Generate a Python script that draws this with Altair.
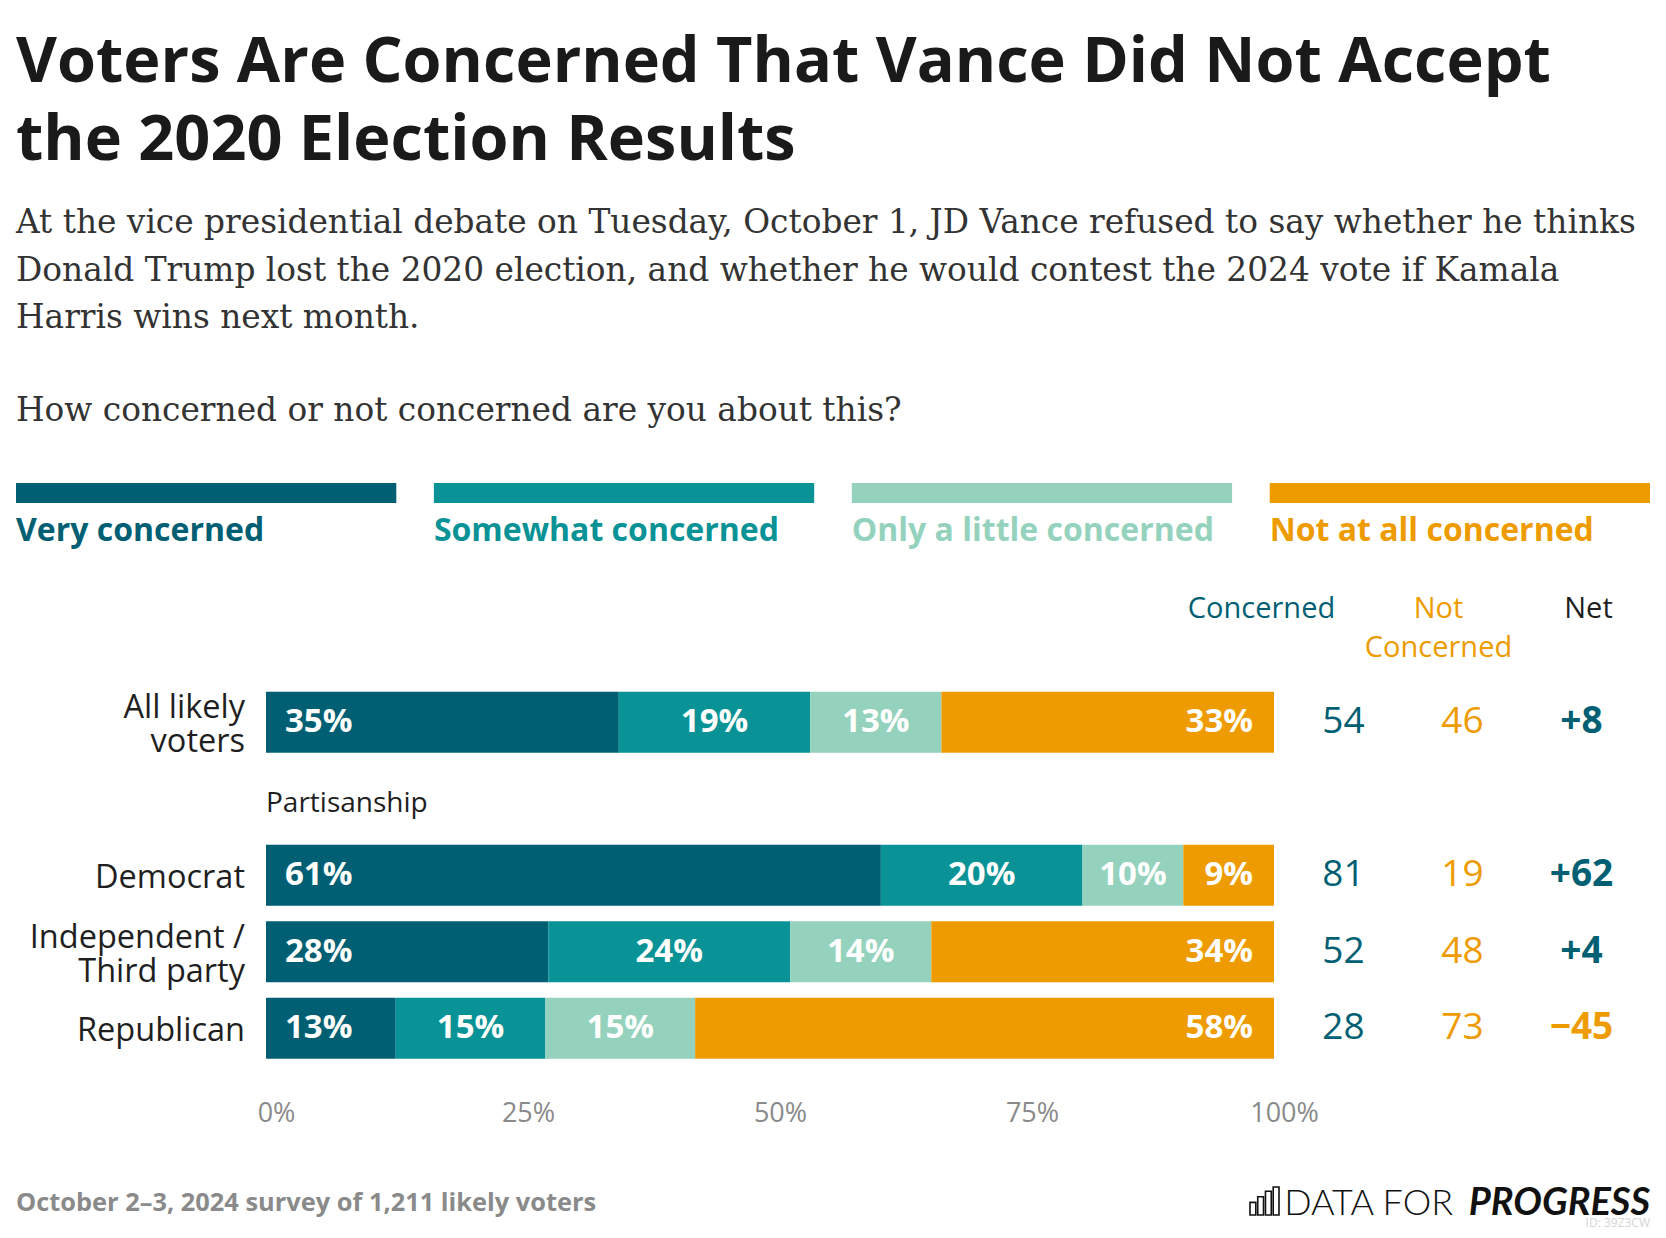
import altair as alt
import pandas as pd

# ---- data -------------------------------------------------------------
rows = ["All likely voters", "Democrat", "Independent / Third party", "Republican"]
row_labels = ["All likely\nvoters", "Democrat", "Independent /\nThird party", "Republican"]
section_label = "Partisanship"
row_domain = [rows[0], section_label, rows[1], rows[2], rows[3]]

levels = ["Very concerned", "Somewhat concerned", "Only a little concerned", "Not at all concerned"]
level_colors = ["#005f73", "#0a9396", "#94d2bd", "#ee9b00"]

very = [35, 61, 28, 13]
somewhat = [19, 20, 24, 15]
little = [13, 10, 14, 15]
not_at_all = [33, 9, 34, 58]

concerned_total = [54, 81, 52, 28]
not_concerned_total = [46, 19, 48, 73]
net = [8, 62, 4, -45]

table_cols = ["Concerned", "Not Concerned", "Net"]
table_headers = ["Concerned", "Not\nConcerned", "Net"]
x_ticks = [0, 0.25, 0.5, 0.75, 1]

title_lines = ["Voters Are Concerned That Vance Did Not Accept", "the 2020 Election Results"]
subtitle_lines = [
    "At the vice presidential debate on Tuesday, October 1, JD Vance refused to say whether he thinks",
    "Donald Trump lost the 2020 election, and whether he would contest the 2024 vote if Kamala",
    "Harris wins next month.",
]
question_text = "How concerned or not concerned are you about this?"
source_note = "October 2\u20133, 2024 survey of 1,211 likely voters"
logo_bars = [0.45, 0.65, 0.85, 1.0]

TEAL = "#005f73"
ORANGE = "#ee9b00"
INK = "#1f1f1f"
SANS = "Open Sans"
SERIF = "DejaVu Serif"
SERIF_SIZE = 32.8

# ---- tables -----------------------------------------------------------
series = [very, somewhat, little, not_at_all]
bars_df = pd.DataFrame(
    [
        {"row": r, "level": lv, "order": j, "value": series[j][i]}
        for i, r in enumerate(rows)
        for j, lv in enumerate(levels)
    ]
)
labels_df = pd.DataFrame({"row": rows, "label": row_labels})


def signed(v):
    return ("+" if v >= 0 else "\u2212") + str(abs(v))


conc_df = pd.DataFrame({"row": rows, "col": table_cols[0], "txt": [str(v) for v in concerned_total]})
notc_df = pd.DataFrame({"row": rows, "col": table_cols[1], "txt": [str(v) for v in not_concerned_total]})
net_df = pd.DataFrame({"row": rows, "col": table_cols[2], "net": net, "txt": [signed(v) for v in net]})
legend_df = pd.DataFrame({"level": levels})

# ---- shared scales ----------------------------------------------------
y_scale = alt.Scale(domain=row_domain, paddingInner=0.2, paddingOuter=0.1)
x_axis = alt.Axis(
    values=x_ticks, format=".0%", domain=False, ticks=False, grid=False, labelFlush=False,
    labelFont=SANS, labelFontSize=27, labelColor="#8a8a8a", labelPadding=34, labelOffset=10,
    title=None,
)
x_scale = alt.Scale(domain=[0, 1], nice=False)
color_scale = alt.Scale(domain=levels, range=level_colors)

PLOT_H = 382.5

# ---- stacked bars -----------------------------------------------------
stacked = alt.Chart(bars_df).transform_stack(
    stack="value", groupby=["row"], as_=["x0", "x1"], offset="normalize",
    sort=[alt.SortField("order", order="ascending")],
).transform_calculate(mid="(datum.x0 + datum.x1) / 2", pct="datum.value + '%'")

bars = stacked.mark_bar().encode(
    x=alt.X("x0:Q", scale=x_scale, axis=x_axis),
    x2="x1:Q",
    y=alt.Y("row:N", scale=y_scale, axis=None),
    color=alt.Color("level:N", scale=color_scale, legend=None),
)

pct_style = dict(font=SANS, fontSize=33, fontWeight="bold", color="white", baseline="middle")
first_lbl = stacked.transform_filter("datum.order == 0").mark_text(align="left", dx=19, **pct_style).encode(
    x=alt.X("x0:Q", scale=x_scale, axis=x_axis), y=alt.Y("row:N", scale=y_scale, axis=None), text="pct:N"
)
mid_lbl = stacked.transform_filter("datum.order == 1 || datum.order == 2").mark_text(align="center", **pct_style).encode(
    x=alt.X("mid:Q", scale=x_scale, axis=x_axis), y=alt.Y("row:N", scale=y_scale, axis=None), text="pct:N"
)
last_lbl = stacked.transform_filter("datum.order == 3").mark_text(align="right", dx=-21, **pct_style).encode(
    x=alt.X("x1:Q", scale=x_scale, axis=x_axis), y=alt.Y("row:N", scale=y_scale, axis=None), text="pct:N"
)
section = alt.Chart(pd.DataFrame({"row": [section_label], "x": [0]})).mark_text(
    align="left", baseline="middle", dy=5, font=SANS, fontSize=28, color=INK
).encode(x=alt.X("x:Q", scale=x_scale, axis=x_axis), y=alt.Y("row:N", scale=y_scale, axis=None), text="row:N")

bar_panel = alt.layer(bars, first_lbl, mid_lbl, last_lbl, section).properties(width=1008, height=PLOT_H)

# ---- row labels (two-line labels are lifted so the block is centred) ---
label_style = dict(align="right", baseline="middle", lineBreak="\n", font=SANS, fontSize=32.5, lineHeight=34, color=INK)
multi_line = "indexof(datum.label, '\\n') >= 0"
label_enc = dict(x=alt.value(229), y=alt.Y("row:N", scale=y_scale, axis=None), text="label:N")
single_labels = alt.Chart(labels_df).transform_filter(f"!({multi_line})").mark_text(dy=3, **label_style).encode(**label_enc)
double_labels = alt.Chart(labels_df).transform_filter(multi_line).mark_text(dy=-14, **label_style).encode(**label_enc)
label_panel = alt.layer(single_labels, double_labels).properties(width=240, height=PLOT_H)

# ---- summary table ----------------------------------------------------
col_scale = alt.Scale(domain=table_cols, paddingInner=0, paddingOuter=0)
num_style = dict(baseline="middle", font=SANS, fontSize=37)
num_enc = dict(
    x=alt.X("col:N", scale=col_scale, axis=None),
    y=alt.Y("row:N", scale=y_scale, axis=None),
    text="txt:N",
)
conc_cells = alt.Chart(conc_df).mark_text(color=TEAL, **num_style).encode(**num_enc)
notc_cells = alt.Chart(notc_df).mark_text(color=ORANGE, **num_style).encode(**num_enc)
net_cells = alt.Chart(net_df).mark_text(fontWeight="bold", **num_style).encode(
    color=alt.condition("datum.net >= 0", alt.value(TEAL), alt.value(ORANGE)), **num_enc
)

header_df = pd.DataFrame({"col": table_cols, "head": table_headers})
header_style = dict(baseline="alphabetic", font=SANS, fontSize=29, lineBreak="\n", lineHeight=39)
header_layers = []
for col, dx, colr in zip(table_cols, [-82, -24, 7], [TEAL, ORANGE, INK]):
    header_layers.append(
        alt.Chart(header_df).transform_filter(alt.datum.col == col).mark_text(dx=dx, color=colr, **header_style).encode(
            x=alt.X("col:N", scale=col_scale, axis=None), y=alt.value(-66), text="head:N"
        )
    )

table_panel = alt.layer(conc_cells, notc_cells, net_cells, *header_layers).properties(width=357, height=PLOT_H)

# ---- question + legend strip ------------------------------------------
question = alt.Chart(pd.DataFrame({"t": [question_text]})).mark_text(
    align="left", baseline="alphabetic", font=SERIF, fontSize=SERIF_SIZE, color="#333333"
).encode(x=alt.value(0), y=alt.value(-62), text="t:N")

legend_x = alt.Scale(domain=levels, paddingInner=0.09, paddingOuter=0)
swatches = alt.Chart(legend_df).mark_bar().encode(
    x=alt.X("level:N", scale=legend_x, axis=None),
    y=alt.value(0), y2=alt.value(20),
    color=alt.Color("level:N", scale=color_scale, legend=None),
)
swatch_text = alt.Chart(legend_df).mark_text(
    align="left", baseline="alphabetic", font=SANS, fontSize=32, fontWeight="bold"
).encode(
    x=alt.X("level:N", scale=legend_x, axis=None, bandPosition=0),
    y=alt.value(58),
    text="level:N",
    color=alt.Color("level:N", scale=color_scale, legend=None),
)
legend_panel = alt.layer(question, swatches, swatch_text).properties(width=1634, height=112)

# ---- footer -----------------------------------------------------------
FOOT_Y = 84
note = alt.Chart(pd.DataFrame({"t": [source_note]})).mark_text(
    align="left", baseline="alphabetic", font=SANS, fontSize=25.4, fontWeight="bold", color="#8a8a8a"
).encode(x=alt.value(0), y=alt.value(FOOT_Y), text="t:N")
brand_a = alt.Chart(pd.DataFrame({"t": ["DATA FOR"]})).mark_text(
    align="right", baseline="alphabetic", font="Lato", fontSize=36, fontWeight=300, color="#111"
).encode(x=alt.value(1437), y=alt.value(FOOT_Y + 4), text="t:N")
brand_b = alt.Chart(pd.DataFrame({"t": ["PROGRESS"]})).mark_text(
    align="right", baseline="alphabetic", font="Lato", fontSize=38, fontWeight="bold", fontStyle="italic", color="#111"
).encode(x=alt.value(1634), y=alt.value(FOOT_Y + 4), text="t:N")
brand_id = alt.Chart(pd.DataFrame({"t": ["ID: 39Z3CW"]})).mark_text(
    align="right", baseline="alphabetic", font=SANS, fontSize=12, color="#d5d5d5"
).encode(x=alt.value(1634), y=alt.value(FOOT_Y + 16), text="t:N")
icon = alt.Chart(pd.DataFrame({"i": [0, 1, 2, 3], "h": logo_bars})).mark_bar(
    fill="white", stroke="#111", strokeWidth=1.6
).encode(
    x=alt.X("i:O", scale=alt.Scale(range=[1234, 1263], paddingInner=0.25, paddingOuter=0), axis=None),
    y=alt.Y("h:Q", scale=alt.Scale(domain=[0, 1], range=[FOOT_Y + 4, FOOT_Y - 24]), axis=None),
    y2=alt.value(FOOT_Y + 4),
)
footer_panel = alt.layer(note, icon, brand_a, brand_b, brand_id).resolve_scale(
    x="independent", y="independent"
).properties(width=1634, height=FOOT_Y + 20)

# ---- assemble ---------------------------------------------------------
middle = alt.hconcat(label_panel, bar_panel, table_panel, spacing=10, bounds="flush")

chart = alt.vconcat(legend_panel, middle, footer_panel, spacing=0).properties(
    title=alt.TitleParams(
        text=title_lines,
        subtitle=subtitle_lines,
        anchor="start",
        font=SANS,
        fontSize=63,
        fontWeight="bold",
        color="#1a1a1a",
        lineHeight=78,
        subtitleFont=SERIF,
        subtitleFontSize=SERIF_SIZE,
        subtitleColor="#333333",
        subtitleLineHeight=47.5,
        subtitlePadding=34,
        offset=60,
    ),
    padding={"left": 16, "right": 16, "top": 32, "bottom": 4},
    background="white",
).configure_view(stroke=None)

chart.save("out.html", embed_options={"renderer": "svg", "actions": False})
